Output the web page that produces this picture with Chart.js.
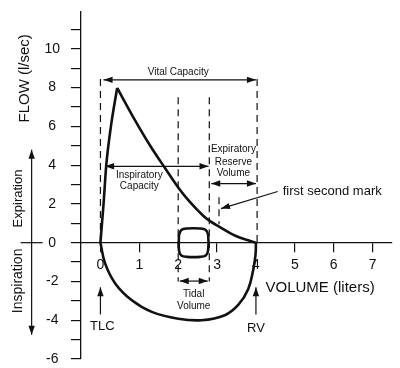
<!DOCTYPE html>
<html>
<head>
<meta charset="utf-8">
<script src="https://cdn.jsdelivr.net/npm/chart.js@4.4.0/dist/chart.umd.min.js"></script>
<style>
  html, body { margin: 0; padding: 0; background: #fff; }
  #wrap { width: 400px; height: 368px; }
</style>
</head>
<body>
<div id="wrap"><canvas id="chart"></canvas></div>
<script>
// flow-volume loop, volume in liters / flow in l/sec
const riseX = [0, 0.08, 0.15, 0.27, 0.43];
const riseY = [0, 2, 4, 6, 7.98];
const fallX = [0.43, 0.85, 1.28, 1.66, 2.0, 2.3, 2.65, 2.85, 3.05, 3.5, 3.8, 4.0];
const fallY = [7.98, 6.45, 5.0, 3.85, 2.85, 2.1, 1.38, 1.07, 0.83, 0.33, 0.12, 0];
const inspX = [0, 0.12, 0.38, 0.8, 1.32, 2.0, 2.6, 3.2, 3.55, 3.8, 3.93, 3.99, 4.0];
const inspY = [0, -1.07, -2.1, -2.96, -3.57, -3.92, -4.0, -3.74, -3.2, -2.4, -1.4, -0.6, 0];
const tidalX = [2.02, 2.08, 2.22, 2.57, 2.71, 2.77, 2.77, 2.71, 2.57, 2.22, 2.08, 2.02, 2.02];
const tidalY = [0.4, 0.66, 0.73, 0.73, 0.66, 0.4, -0.4, -0.66, -0.73, -0.73, -0.66, -0.4, 0.4];

// dashed guide lines: x, top, bottom
const guideX = [0, 4.03, 2.0, 2.8, 3.05];
const guideTop = [8.45, 8.45, 7.5, 7.5, 2.35];
const guideBottom = [0, 0, -2.0, -2.0, 0.95];

const xTicks = [0, 1, 2, 3, 4, 5, 6, 7];

// x1, y1, x2, y2, double headed
const arrows = [
  [0.08, 8.4, 4.0, 8.4, true],
  [0.12, 3.94, 2.78, 3.94, true],
  [2.85, 3.05, 4.0, 3.05, true],
  [2.04, -1.98, 2.76, -1.98, true],
  [4.56, 2.64, 3.1, 1.76, false],
  [0, -3.7, 0, -2.3, false],
  [4.0, -3.7, 4.0, -2.3, false],
  [-1.77, 0, -1.77, 4.8, false],
  [-1.77, 0, -1.77, -4.75, false],
];

// text, x, y, size, align
const notes = [
  ['Vital Capacity', 2.0, 8.8, 10, 'center'],
  ['Inspiratory', 1.0, 3.47, 10, 'center'],
  ['Capacity', 1.0, 2.9, 10, 'center'],
  ['Expiratory', 3.42, 4.8, 10, 'center'],
  ['Reserve', 3.42, 4.15, 10, 'center'],
  ['Volume', 3.42, 3.58, 10, 'center'],
  ['Tidal', 2.4, -2.64, 10, 'center'],
  ['Volume', 2.4, -3.26, 10, 'center'],
  ['first second mark', 4.69, 2.64, 13, 'left'],
  ['TLC', 0.05, -4.3, 13, 'center'],
  ['RV', 4.0, -4.4, 13, 'center'],
  ['VOLUME (liters)', 5.65, -2.34, 15, 'center'],
];

// rotated side labels
const sideNotes = [
  ['FLOW (l/sec)', -1.94, 8.48, 15],
  ['Expiration', -2.12, 2.28, 13],
  ['Inspiration', -2.12, -1.97, 14],
];

const FONT = '"Liberation Sans", Arial, sans-serif';
const INK = '#111';

const toPoints = (xs, ys) => xs.map((x, i) => ({ x, y: ys[i] }));

const curve = (xs, ys, extra) => ({
  data: toPoints(xs, ys),
  borderColor: INK,
  borderWidth: 2.6,
  pointRadius: 0,
  fill: false,
  ...extra,
});

const datasets = [
  curve(riseX, riseY, { cubicInterpolationMode: 'monotone' }),
  curve(fallX, fallY, { cubicInterpolationMode: 'monotone' }),
  curve(inspX, inspY, { tension: 0.4 }),
  curve(tidalX, tidalY, { tension: 0.35 }),
].concat(guideX.map((x, i) => ({
  data: [{ x, y: guideTop[i] }, { x, y: guideBottom[i] }],
  borderColor: INK,
  borderWidth: 1.2,
  borderDash: [7, 5],
  pointRadius: 0,
})));

const drawHead = (ctx, x1, y1, x2, y2) => {
  const a = Math.atan2(y2 - y1, x2 - x1);
  const len = 9;
  const w = 3.2;
  ctx.beginPath();
  ctx.moveTo(x2, y2);
  ctx.lineTo(x2 - len * Math.cos(a) + w * Math.sin(a), y2 - len * Math.sin(a) - w * Math.cos(a));
  ctx.lineTo(x2 - len * Math.cos(a) - w * Math.sin(a), y2 - len * Math.sin(a) + w * Math.cos(a));
  ctx.closePath();
  ctx.fill();
};

const notesPlugin = {
  id: 'notes',
  afterDraw(chart) {
    const { ctx } = chart;
    const sx = chart.scales.x;
    const sy = chart.scales.y;
    const px = v => sx.getPixelForValue(v);
    const py = v => sy.getPixelForValue(v);
    ctx.save();
    ctx.strokeStyle = INK;
    ctx.fillStyle = INK;
    ctx.lineWidth = 1.2;

    arrows.forEach(([x1, y1, x2, y2, both]) => {
      const a = [px(x1), py(y1)];
      const b = [px(x2), py(y2)];
      ctx.beginPath();
      ctx.moveTo(a[0], a[1]);
      ctx.lineTo(b[0], b[1]);
      ctx.stroke();
      drawHead(ctx, a[0], a[1], b[0], b[1]);
      if (both) drawHead(ctx, b[0], b[1], a[0], a[1]);
    });

    // small cross on the expiration / inspiration arrow
    ctx.beginPath();
    ctx.moveTo(px(-1.77) - 11, py(0));
    ctx.lineTo(px(-1.77) + 11, py(0));
    ctx.stroke();

    ctx.textBaseline = 'middle';
    notes.forEach(([text, x, y, size, align]) => {
      ctx.font = `${size}px ${FONT}`;
      ctx.textAlign = align;
      ctx.fillText(text, px(x), py(y));
    });

    ctx.textAlign = 'center';
    sideNotes.forEach(([text, x, y, size]) => {
      ctx.save();
      ctx.translate(px(x), py(y));
      ctx.rotate(-Math.PI / 2);
      ctx.font = `${size}px ${FONT}`;
      ctx.fillText(text, 0, 0);
      ctx.restore();
    });
    ctx.restore();
  },
};

new Chart(document.getElementById('chart'), {
  type: 'scatter',
  data: { datasets: datasets.map(d => ({ showLine: true, ...d })) },
  options: {
    responsive: true,
    maintainAspectRatio: false,
    animation: false,
    layout: { padding: { top: 12, right: 8, bottom: 9, left: 0 } },
    plugins: { legend: { display: false }, tooltip: { enabled: false } },
    scales: {
      x: {
        type: 'linear',
        position: { y: 0 },
        min: -0.5,
        max: 7.5,
        afterBuildTicks: scale => { scale.ticks = xTicks.map(value => ({ value })); },
        afterFit: scale => { scale.paddingLeft = 0; scale.paddingRight = 0; },
        grid: { drawOnChartArea: false, drawTicks: true, tickLength: 9, color: INK, lineWidth: 1.2 },
        border: { display: true, color: INK, width: 1.3 },
        ticks: { color: INK, font: { family: FONT, size: 14 }, padding: 5, maxRotation: 0 },
      },
      y: {
        type: 'linear',
        min: -6,
        max: 11.9,
        afterFit: scale => {
          scale.width = 81;
          scale.paddingTop = 0;
          scale.paddingBottom = 0;
        },
        grid: { drawOnChartArea: false, drawTicks: true, tickLength: 10, color: INK, lineWidth: 1.2 },
        border: { display: true, color: INK, width: 1.3 },
        ticks: {
          stepSize: 1,
          includeBounds: false,
          crossAlign: 'center',
          padding: 11,
          color: INK,
          font: { family: FONT, size: 14 },
          callback: v => (v % 2 === 0 && v <= 10 ? String(v) : ''),
        },
      },
    },
  },
  plugins: [notesPlugin],
});
</script>
</body>
</html>
